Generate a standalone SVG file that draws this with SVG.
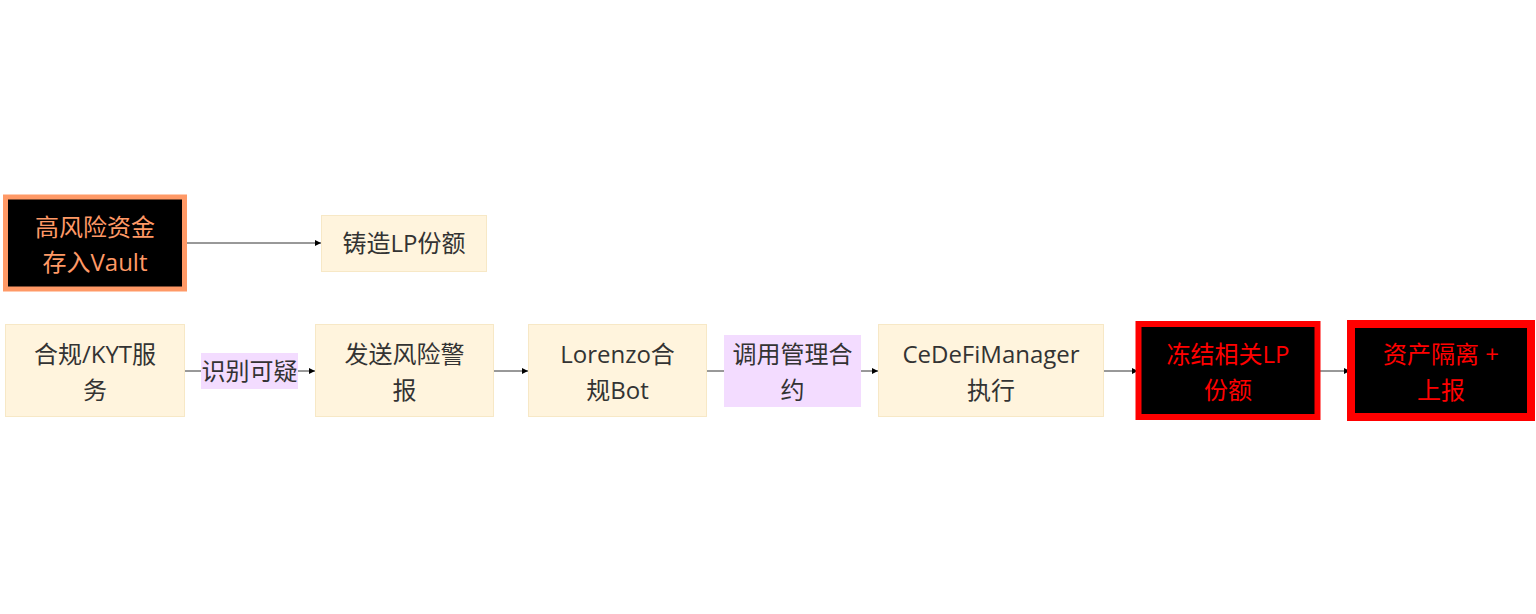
<svg xmlns="http://www.w3.org/2000/svg" width="1536" height="614" viewBox="0 0 1536 614">
<defs>
<marker id="arr" viewBox="0 0 10 10" refX="10" refY="5" markerWidth="6" markerHeight="6" orient="auto" markerUnits="userSpaceOnUse"><path d="M0,0 L10,5 L0,10 z" fill="#000"/></marker>
<style>
text{font-family:"Open Sans","Noto Sans CJK SC",sans-serif;font-size:24px;text-anchor:middle;}
.n rect{fill:#FFF4DD;stroke:#F7E8C6;stroke-width:1;}
.n text{fill:#333;}
.lbl rect{fill:#F3DCFF;}
.lbl text{fill:#333;}
.e{stroke:#333;stroke-width:1;fill:none;marker-end:url(#arr);}
.red rect{fill:#000;stroke:#FF0000;stroke-width:6;}
.red text{fill:#FF0000;}
</style>
</defs>
<rect width="1536" height="614" fill="#fff"/>
<g id="connectors">
<path class="e" d="M187,243 L321,243"/>
<path class="e" d="M185,371 L315,371"/>
<path class="e" d="M494,371 L528,371"/>
<path class="e" d="M707,371 L878,371"/>
<path class="e" d="M1104,371 L1138,371"/>
<path class="e" d="M1320,371 L1350,371"/>
</g>
<g id="edge-label-1" class="lbl"><rect x="201" y="353" width="97" height="36"/><text x="249.5" y="380">识别可疑</text></g>
<g id="edge-label-2" class="lbl"><rect x="724" y="335" width="137" height="72"/><text x="792.5" y="363">调用管理合</text><text x="792.5" y="399">约</text></g>
<g id="node-vault"><rect x="5.5" y="197" width="179" height="92" fill="#000" stroke="#FF9966" stroke-width="5"/><text x="95" y="236" fill="#FF9966">高风险资金</text><text x="95" y="271" fill="#FF9966">存入Vault</text></g>
<g id="node-mint" class="n"><rect x="321.5" y="215.5" width="165" height="56"/><text x="404" y="252">铸造LP份额</text></g>
<g id="node-kyt" class="n"><rect x="5.5" y="324.5" width="179" height="92"/><text x="95" y="363">合规/KYT服</text><text x="95" y="399">务</text></g>
<g id="node-alert" class="n"><rect x="315.5" y="324.5" width="178" height="92"/><text x="404.5" y="363">发送风险警</text><text x="404.5" y="399">报</text></g>
<g id="node-bot" class="n"><rect x="528.5" y="324.5" width="178" height="92"/><text x="617.5" y="363">Lorenzo合</text><text x="617.5" y="399">规Bot</text></g>
<g id="node-manager" class="n"><rect x="878.5" y="324.5" width="225" height="92"/><text x="991" y="363">CeDeFiManager</text><text x="991" y="399">执行</text></g>
<g id="node-freeze" class="red"><rect x="1138.5" y="324" width="179" height="93"/><text x="1228" y="363">冻结相关LP</text><text x="1228" y="399">份额</text></g>
<g id="node-isolate" class="red"><rect x="1351" y="324" width="180" height="93" style="stroke-width:8"/><text x="1441" y="363">资产隔离 +</text><text x="1441" y="399">上报</text></g>
</svg>
